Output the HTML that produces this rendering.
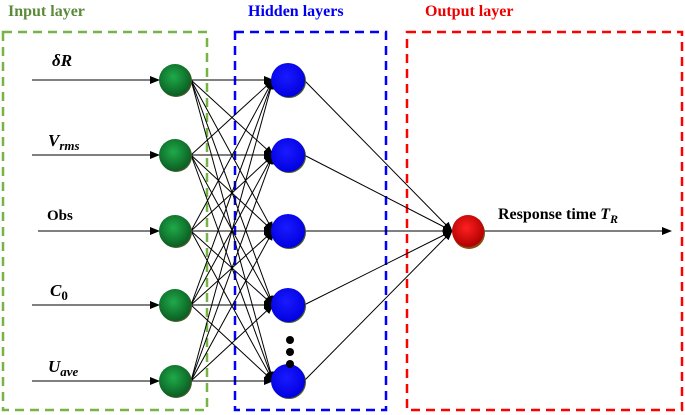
<!DOCTYPE html>
<html><head><style>body{margin:0;background:#fff}svg{display:block}</style></head><body>
<svg width="685" height="415" viewBox="0 0 685 415" xmlns="http://www.w3.org/2000/svg" font-family="Liberation Serif, serif" font-weight="bold">
<defs>
<radialGradient id="g" cx="0.45" cy="0.4" r="0.6"><stop offset="0" stop-color="#1faa4a"/><stop offset="1" stop-color="#0b5e22"/></radialGradient>
<radialGradient id="b" cx="0.45" cy="0.4" r="0.6"><stop offset="0" stop-color="#1a1aff"/><stop offset="1" stop-color="#0000e0"/></radialGradient>
<radialGradient id="r" cx="0.45" cy="0.4" r="0.6"><stop offset="0" stop-color="#ff2020"/><stop offset="1" stop-color="#b00000"/></radialGradient>
<marker id="a" markerWidth="10" markerHeight="8" refX="9" refY="4" orient="auto" markerUnits="userSpaceOnUse"><path d="M0,0L10,4L0,8z" fill="#000"/></marker>
</defs>
<text x="8" y="16" font-size="16" fill="#5a8a3a">Input layer</text>
<text x="248" y="16" font-size="16" fill="#0000ee">Hidden layers</text>
<text x="425" y="16" font-size="16" fill="#ee0000">Output layer</text>
<rect x="3" y="32" width="204" height="378" fill="none" stroke="#77b347" stroke-width="2.5" stroke-dasharray="9,6"/>
<rect x="235" y="32" width="151" height="378" fill="none" stroke="#0000ff" stroke-width="2.5" stroke-dasharray="9,6"/>
<rect x="407" y="32" width="275" height="378" fill="none" stroke="#ff0000" stroke-width="2.5" stroke-dasharray="9,6"/>
<g stroke="#000" stroke-width="1" fill="none">
<line x1="32" y1="80" x2="159" y2="80" marker-end="url(#a)"/>
<line x1="32" y1="155" x2="159" y2="155" marker-end="url(#a)"/>
<line x1="38" y1="231" x2="159" y2="231" marker-end="url(#a)"/>
<line x1="32" y1="305" x2="159" y2="305" marker-end="url(#a)"/>
<line x1="32" y1="381" x2="159" y2="381" marker-end="url(#a)"/>
<g marker-end="url(#a)">
<line x1="191" y1="80" x2="273" y2="80"/><line x1="191" y1="80" x2="273" y2="155"/><line x1="191" y1="80" x2="273" y2="231"/><line x1="191" y1="80" x2="273" y2="305"/><line x1="191" y1="80" x2="273" y2="381"/>
<line x1="191" y1="155" x2="273" y2="80"/><line x1="191" y1="155" x2="273" y2="155"/><line x1="191" y1="155" x2="273" y2="231"/><line x1="191" y1="155" x2="273" y2="305"/><line x1="191" y1="155" x2="273" y2="381"/>
<line x1="191" y1="231" x2="273" y2="80"/><line x1="191" y1="231" x2="273" y2="155"/><line x1="191" y1="231" x2="273" y2="231"/><line x1="191" y1="231" x2="273" y2="305"/><line x1="191" y1="231" x2="273" y2="381"/>
<line x1="191" y1="305" x2="273" y2="80"/><line x1="191" y1="305" x2="273" y2="155"/><line x1="191" y1="305" x2="273" y2="231"/><line x1="191" y1="305" x2="273" y2="305"/><line x1="191" y1="305" x2="273" y2="381"/>
<line x1="191" y1="381" x2="273" y2="80"/><line x1="191" y1="381" x2="273" y2="155"/><line x1="191" y1="381" x2="273" y2="231"/><line x1="191" y1="381" x2="273" y2="305"/><line x1="191" y1="381" x2="273" y2="381"/>
<line x1="304" y1="80" x2="452" y2="231"/><line x1="304" y1="155" x2="452" y2="231"/><line x1="304" y1="231" x2="452" y2="231"/><line x1="304" y1="305" x2="452" y2="231"/><line x1="304" y1="381" x2="452" y2="231"/>
<line x1="484" y1="231" x2="671" y2="231"/>
</g>
</g>
<g>
<circle cx="176" cy="81" r="16" fill="#4a5a2a"/><circle cx="175" cy="80" r="16" fill="url(#g)"/>
<circle cx="176" cy="156" r="16" fill="#4a5a2a"/><circle cx="175" cy="155" r="16" fill="url(#g)"/>
<circle cx="176" cy="232" r="16" fill="#4a5a2a"/><circle cx="175" cy="231" r="16" fill="url(#g)"/>
<circle cx="176" cy="306" r="16" fill="#4a5a2a"/><circle cx="175" cy="305" r="16" fill="url(#g)"/>
<circle cx="176" cy="382" r="16" fill="#4a5a2a"/><circle cx="175" cy="381" r="16" fill="url(#g)"/>
<circle cx="289" cy="81" r="17" fill="#4a5a2a"/><circle cx="288" cy="80" r="17" fill="url(#b)"/>
<circle cx="289" cy="156" r="17" fill="#4a5a2a"/><circle cx="288" cy="155" r="17" fill="url(#b)"/>
<circle cx="289" cy="232" r="17" fill="#4a5a2a"/><circle cx="288" cy="231" r="17" fill="url(#b)"/>
<circle cx="289" cy="306" r="17" fill="#4a5a2a"/><circle cx="288" cy="305" r="17" fill="url(#b)"/>
<circle cx="289" cy="382" r="17" fill="#4a5a2a"/><circle cx="288" cy="381" r="17" fill="url(#b)"/>
<circle cx="290" cy="340" r="4"/><circle cx="290" cy="352" r="4"/><circle cx="290" cy="364" r="4"/>
<circle cx="469" cy="233" r="16" fill="#8a4a10"/><circle cx="468" cy="231" r="16" fill="url(#r)"/>
</g>
<g font-size="17" font-style="italic">
<text x="52" y="66">δR</text>
<text x="48" y="146">V<tspan font-size="13" dy="4">rms</tspan></text>
<text x="50" y="296">C<tspan font-size="13" dy="4" font-style="normal">0</tspan></text>
<text x="48" y="372">U<tspan font-size="13" dy="4">ave</tspan></text>
</g>
<text x="47" y="220" font-size="15">Obs</text>
<text x="498" y="219" font-size="16">Response time <tspan font-style="italic">T</tspan><tspan font-style="italic" font-size="12" dy="4">R</tspan></text>
</svg>
</body></html>
